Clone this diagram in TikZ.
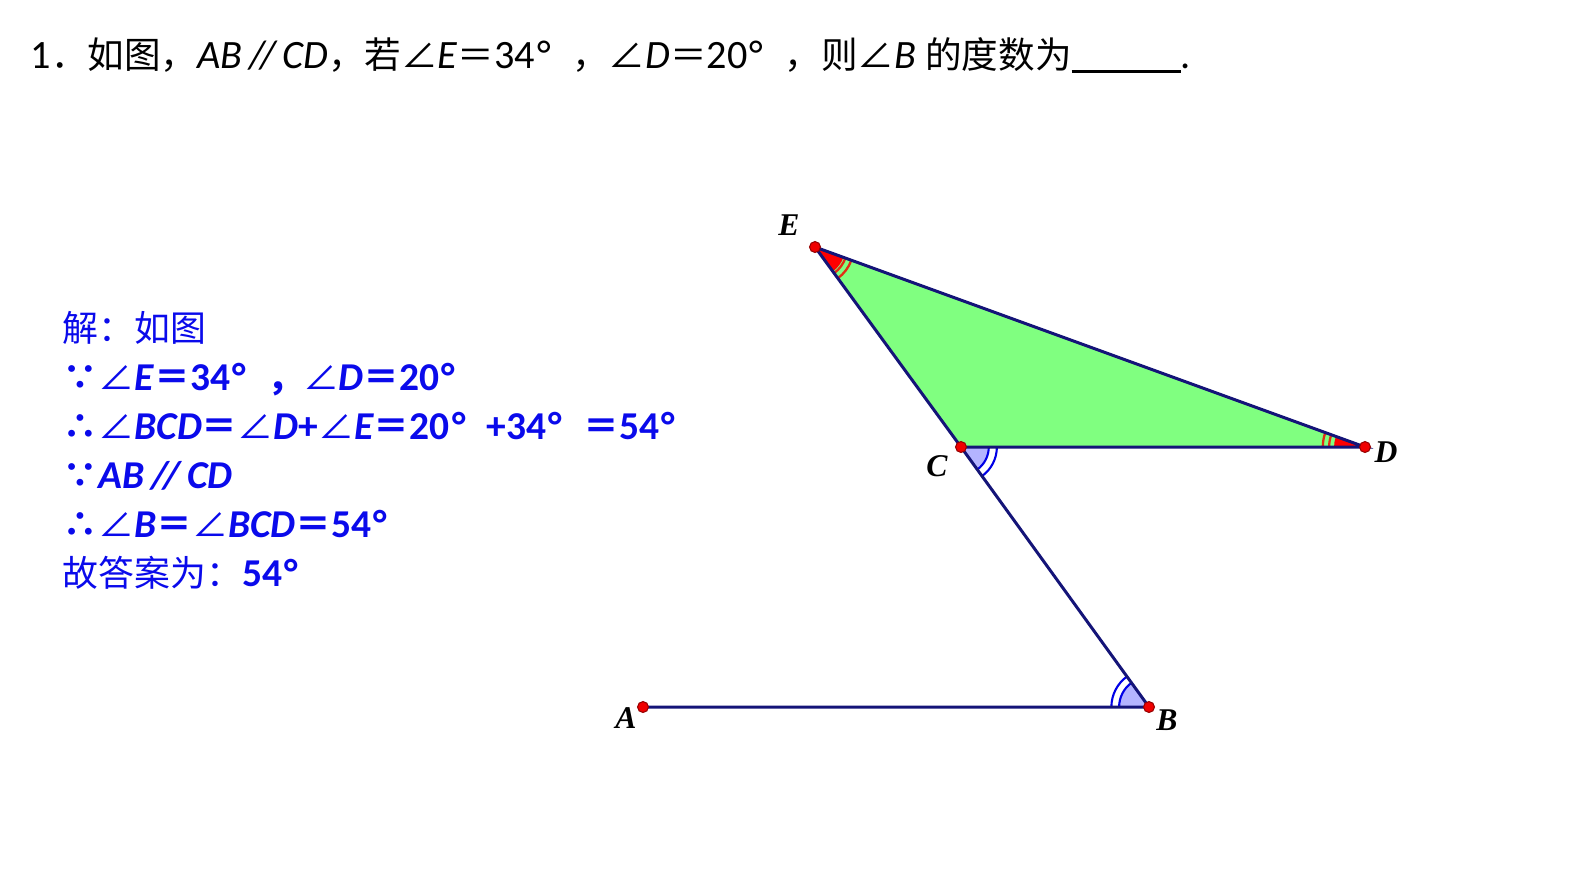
\documentclass[tikz,border=0pt]{standalone}
\usepackage{fontspec}
\setmainfont{Carlito}[Scale=1.1]
\newfontfamily\cjk{Noto Sans CJK SC}
\newfontfamily\ptfont{Liberation Serif}
\usepackage{xcolor}
\usepackage{tikz}
\usetikzlibrary{angles}
\definecolor{segblue}{RGB}{20,20,120}
\definecolor{trigreen}{RGB}{128,255,128}
\definecolor{solblue}{RGB}{10,10,235}
\definecolor{markred}{RGB}{255,0,0}
\definecolor{arcred}{RGB}{225,45,20}
\definecolor{lilac}{RGB}{180,180,255}
\definecolor{arcblue}{RGB}{0,0,230}
\definecolor{dotred}{RGB}{240,0,0}
\definecolor{dotrim}{RGB}{150,0,0}
\tikzstyle{segment} = [draw=segblue, line width=0.85pt]
\tikzstyle{dot} = [circle, fill=dotred, draw=dotrim, line width=0.3pt, inner sep=0pt, minimum size=3.1pt]
\tikzstyle{ptlabel} = [font=\fontsize{9}{10}\selectfont\ptfont\bfseries\itshape, inner sep=0pt]
\tikzstyle{solline} = [anchor=base west, inner sep=0pt, text=solblue, font=\fontsize{10.2}{12}\selectfont\bfseries]
\tikzstyle{redarc} = [draw=arcred, line width=0.65pt]
\tikzstyle{bluearc} = [draw=arcblue, line width=0.6pt]
\newcommand{\jiao}{{\cjk\mdseries ∠}}
\newcommand{\deng}{{\cjk ＝}}
\newcommand{\du}{\kern0.06em°}
\newcommand{\pingxing}{{\itshape/\kern-0.12em/}}

\begin{document}
\begin{tikzpicture}[x=0.01cm, y=0.01cm]
    \useasboundingbox (0,0) rectangle (1584,-890);

    % Question
    \node[anchor=base west, inner sep=0pt, font=\fontsize{10.4}{12}\selectfont] (title) at (30,-68)
        {1{\cjk ．如图，}\textit{AB}\,\pingxing\,\textit{CD}{\cjk ，若}\jiao\textit{E}\deng 34\du\hspace{6pt}{\cjk ，}\jiao\textit{D}\deng 20\du\hspace{6pt}{\cjk ，则}\jiao\textit{B}\ {\cjk 的度数为}\rule[-1.5pt]{31pt}{1pt}.};

    % Vertices
    \coordinate (E) at (815,-247);
    \coordinate (D) at (1365,-447);
    \coordinate (C) at (961,-447);
    \coordinate (B) at (1149,-707);
    \coordinate (A) at (643,-707);

    % Triangle and angle marks
    \fill[trigreen] (E) -- (D) -- (C) -- cycle;
    \pic[fill=markred, angle radius=8.6pt] {angle=C--E--D};
    \pic[redarc, angle radius=9.2pt] {angle=C--E--D};
    \pic[redarc, angle radius=11pt] {angle=C--E--D};
    \pic[fill=markred, angle radius=8.8pt] {angle=E--D--C};
    \pic[redarc, angle radius=10.2pt] {angle=E--D--C};
    \pic[redarc, angle radius=12pt] {angle=E--D--C};
    \pic[fill=lilac, angle radius=7.9pt] {angle=B--C--D};
    \pic[bluearc, angle radius=7.9pt] {angle=B--C--D};
    \pic[bluearc, angle radius=10.2pt] {angle=B--C--D};
    \pic[fill=lilac, angle radius=8.5pt] {angle=C--B--A};
    \pic[bluearc, angle radius=8.5pt] {angle=C--B--A};
    \pic[bluearc, angle radius=10.7pt] {angle=C--B--A};

    % Segments
    \draw[segment] (E) -- (D) -- (C) -- cycle;
    \draw[segment] (C) -- (B) -- (A);

    % Points
    \node[dot] (dE) at (E) {};
    \node[dot] (dD) at (D) {};
    \node[dot] (dC) at (C) {};
    \node[dot] (dB) at (B) {};
    \node[dot] (dA) at (A) {};

    % Labels
    \node[ptlabel] (lE) at (789,-225) {E};
    \node[ptlabel] (lD) at (1386,-452) {D};
    \node[ptlabel] (lC) at (937,-466) {C};
    \node[ptlabel] (lB) at (1167,-720) {B};
    \node[ptlabel] (lA) at (626,-718) {A};

    % Solution
    \node[solline] (sol1) at (62,-341) {{\cjk\mdseries 解：如图}};
    \node[solline] (sol2) at (62,-390) {{\cjk ∵}\jiao\textit{E}\deng 34\du\hspace{6pt}{\cjk ，}\jiao\textit{D}\deng 20\du};
    \node[solline] (sol3) at (62,-439) {{\cjk ∴}\jiao\textit{BCD}\deng\jiao\textit{D}+\jiao\textit{E}\deng 20\du\hspace{6pt}+34\du\hspace{6pt}\deng 54\du};
    \node[solline] (sol4) at (62,-488) {{\cjk ∵}\textit{AB}\,\pingxing\,\textit{CD}};
    \node[solline] (sol5) at (62,-537) {{\cjk ∴}\jiao\textit{B}\deng\jiao\textit{BCD}\deng 54\du};
    \node[solline] (sol6) at (62,-586) {{\cjk\mdseries 故答案为：}54\du};
\end{tikzpicture}
\end{document}
